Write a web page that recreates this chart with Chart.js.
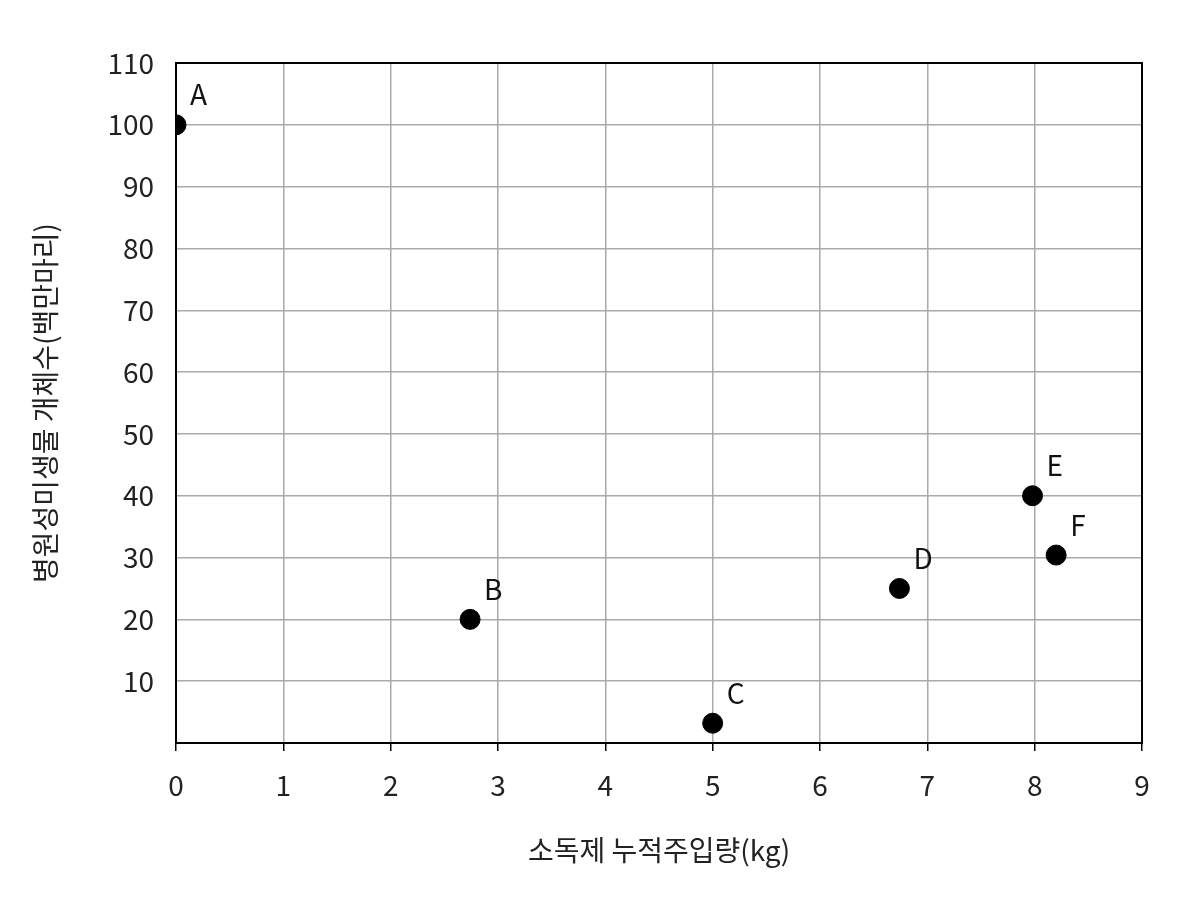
<!DOCTYPE html>
<html><head><meta charset="utf-8">
<script src="https://cdn.jsdelivr.net/npm/chart.js@4/dist/chart.umd.min.js"></script>
<style>html,body{margin:0;padding:0;background:#fff}#wrap{width:1200px;height:906px}</style>
</head><body>
<div id="wrap"><canvas id="c"></canvas></div>
<script>
// values
const pointLabels = ['A', 'B', 'C', 'D', 'E', 'F'];
const doseKg = [0, 2.74, 5.0, 6.74, 7.98, 8.2];
const microbes = [100, 20, 3.2, 25, 40, 30.4];
const xTicks = [0, 1, 2, 3, 4, 5, 6, 7, 8, 9];
const yTicks = [10, 20, 30, 40, 50, 60, 70, 80, 90, 100, 110];
const xTitle = '소독제 누적주입량(kg)';
const yTitle = '병원성미생물 개체수(백만마리)';

const FONT = "'Noto Sans CJK KR', 'Noto Sans', sans-serif";

const labelPlugin = {
  id: 'pointLabels',
  afterDatasetsDraw(chart) {
    const ctx = chart.ctx;
    const meta = chart.getDatasetMeta(0);
    ctx.save();
    ctx.fillStyle = '#111';
    ctx.font = '28px ' + FONT;
    ctx.textAlign = 'left';
    ctx.textBaseline = 'middle';
    meta.data.forEach((pt, i) => {
      ctx.fillText(pointLabels[i], pt.x + 14, pt.y - 30);
    });
    // axis titles
    const a = chart.chartArea;
    ctx.fillStyle = '#222';
    ctx.textAlign = 'center';
    ctx.fillText(xTitle, (a.left + a.right) / 2, 850);
    ctx.translate(45, (a.top + a.bottom) / 2);
    ctx.rotate(-Math.PI / 2);
    ctx.fillText(yTitle, 0, 0);
    ctx.restore();
  }
};

new Chart(document.getElementById('c'), {
  type: 'scatter',
  data: {
    datasets: [{
      data: doseKg.map((x, i) => ({ x, y: microbes[i] })),
      backgroundColor: '#000',
      borderColor: '#000',
      pointRadius: 10,
      pointHoverRadius: 10
    }]
  },
  options: {
    responsive: true,
    maintainAspectRatio: false,
    animation: false,
    layout: { padding: { top: 63, right: 58, left: 0, bottom: 0 } },
    plugins: { legend: { display: false }, tooltip: { enabled: false } },
    scales: {
      x: {
        min: 0, max: 9,
        afterBuildTicks: s => { s.ticks = xTicks.map(v => ({ value: v })); },
        afterFit: s => { s.height = 163; },
        grid: { color: '#aaa', lineWidth: 1.5, drawTicks: true, tickLength: 8, tickColor: '#000' },
        border: { color: '#000', width: 2 },
        ticks: { color: '#222', font: { family: FONT, size: 28 }, padding: 18 }
      },
      y: {
        min: 0, max: 110,
        afterBuildTicks: s => { s.ticks = [0].concat(yTicks).map(v => ({ value: v })); },
        afterFit: s => { s.width = 176; },
        grid: { color: '#aaa', lineWidth: 1.5, drawTicks: false },
        border: { color: '#000', width: 2 },
        ticks: { color: '#222', font: { family: FONT, size: 28 }, padding: 22,
          callback: v => v === 0 ? '' : v }
      }
    }
  },
  plugins: [labelPlugin, {
    id: 'frame',
    afterDraw(chart) {
      const { ctx, chartArea: a } = chart;
      ctx.save();
      ctx.strokeStyle = '#000';
      ctx.lineWidth = 2;
      ctx.strokeRect(a.left, a.top, a.right - a.left, a.bottom - a.top);
      ctx.restore();
    }
  }]
});
</script>
</body></html>
